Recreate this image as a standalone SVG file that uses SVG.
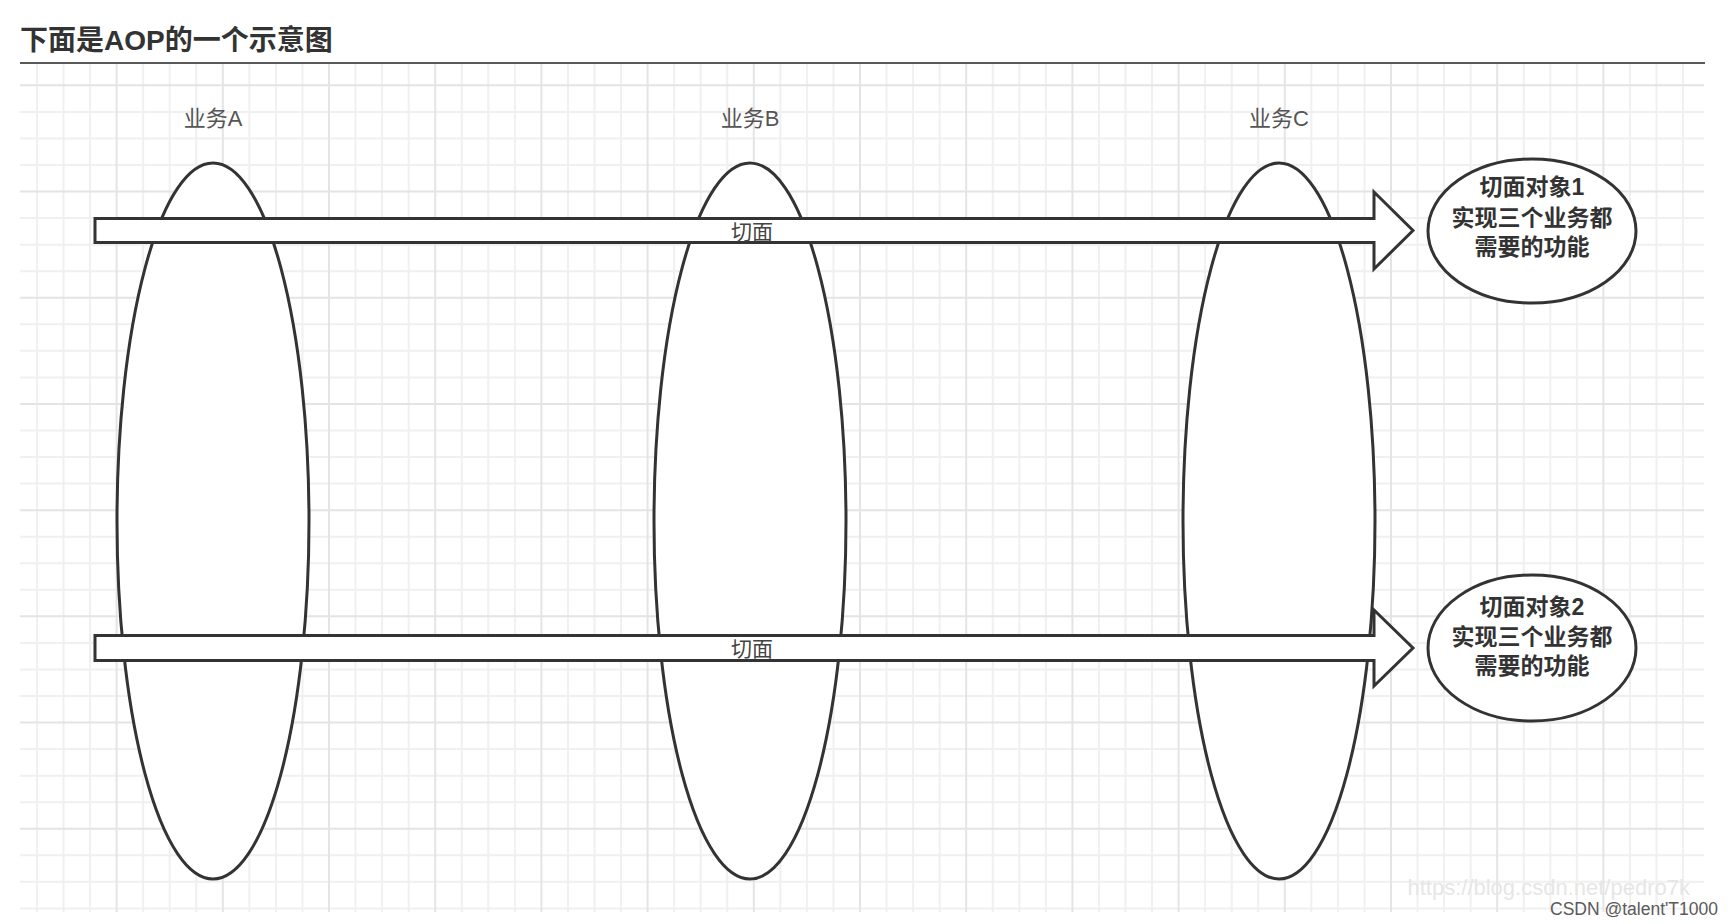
<svg xmlns="http://www.w3.org/2000/svg" width="1733" height="924" viewBox="0 0 1733 924">
<style>
.minor{stroke:#f0f0f0;stroke-width:2;fill:none}
.major{stroke:#e4e4e4;stroke-width:2;fill:none}
.shape{fill:#ffffff;stroke:#333333;stroke-width:3}
.lbl{font-family:"Liberation Sans","Noto Sans CJK SC",sans-serif;font-size:22px;fill:#555555;text-anchor:middle}
.cut{font-family:"Liberation Sans","Noto Sans CJK SC",sans-serif;font-size:21px;fill:#444444;text-anchor:middle}
.obj{font-family:"Liberation Sans","Noto Sans CJK SC",sans-serif;font-size:23px;font-weight:bold;fill:#333333;text-anchor:middle}
</style>
<rect x="0" y="0" width="1733" height="924" fill="#ffffff"/>
<g id="title">
<text x="20" y="50" font-family="Liberation Sans,'Noto Sans CJK SC',sans-serif" font-size="28" font-weight="bold" fill="#333333">下面是AOP的一个示意图</text>
<line x1="20" y1="63" x2="1705" y2="63" stroke="#222222" stroke-width="1.5"/>
</g>
<g id="grid">
<path class="minor" d="M36.95 64V912M63.5 64V912M90.05 64V912M143.15 64V912M169.7 64V912M196.25 64V912M249.35 64V912M275.9 64V912M302.45 64V912M355.55 64V912M382.1 64V912M408.65 64V912M461.75 64V912M488.3 64V912M514.85 64V912M567.95 64V912M594.5 64V912M621.05 64V912M674.15 64V912M700.7 64V912M727.25 64V912M780.35 64V912M806.9 64V912M833.45 64V912M886.55 64V912M913.1 64V912M939.65 64V912M992.75 64V912M1019.3 64V912M1045.85 64V912M1098.95 64V912M1125.5 64V912M1152.05 64V912M1205.15 64V912M1231.7 64V912M1258.25 64V912M1311.35 64V912M1337.9 64V912M1364.45 64V912M1417.55 64V912M1444.1 64V912M1470.65 64V912M1523.75 64V912M1550.3 64V912M1576.85 64V912M1629.95 64V912M1656.5 64V912M1683.05 64V912
M20 111.9H1704M20 138.45H1704M20 165H1704M20 218.1H1704M20 244.65H1704M20 271.2H1704M20 324.3H1704M20 350.85H1704M20 377.4H1704M20 430.5H1704M20 457.05H1704M20 483.6H1704M20 536.7H1704M20 563.25H1704M20 589.8H1704M20 642.9H1704M20 669.45H1704M20 696H1704M20 749.1H1704M20 775.65H1704M20 802.2H1704M20 855.3H1704M20 881.85H1704M20 908.4H1704"/>
<path class="major" d="M116.6 64V912M222.8 64V912M329 64V912M435.2 64V912M541.4 64V912M647.6 64V912M753.8 64V912M860 64V912M966.2 64V912M1072.4 64V912M1178.6 64V912M1284.8 64V912M1391 64V912M1497.2 64V912M1603.4 64V912
M20 85.35H1704M20 191.55H1704M20 297.75H1704M20 403.95H1704M20 510.15H1704M20 616.35H1704M20 722.55H1704M20 828.75H1704"/>
</g>
<g id="bizA">
<ellipse class="shape" cx="213" cy="521" rx="96" ry="358"/>
<text class="lbl" x="213" y="126">业务A</text>
</g>
<g id="bizB">
<ellipse class="shape" cx="750" cy="521" rx="96" ry="358"/>
<text class="lbl" x="750" y="126">业务B</text>
</g>
<g id="bizC">
<ellipse class="shape" cx="1279" cy="521" rx="96" ry="358"/>
<text class="lbl" x="1279" y="126">业务C</text>
</g>
<g id="connectors">
<g id="aspect1">
<polygon class="shape" points="95,218.5 1374,218.5 1374,192 1413,230.5 1374,269 1374,242.5 95,242.5"/>
<text class="cut" x="752" y="239">切面</text>
</g>
<g id="aspect2">
<polygon class="shape" points="95,635.5 1374,635.5 1374,610 1413,648 1374,686 1374,660.5 95,660.5"/>
<text class="cut" x="752" y="656">切面</text>
</g>
</g>
<g id="obj1">
<ellipse class="shape" cx="1532" cy="231" rx="104" ry="72"/>
<text class="obj" x="1532" y="195">切面对象1</text>
<text class="obj" x="1532" y="226">实现三个业务都</text>
<text class="obj" x="1532" y="255">需要的功能</text>
</g>
<g id="obj2">
<ellipse class="shape" cx="1532" cy="648" rx="104" ry="73"/>
<text class="obj" x="1532" y="615">切面对象2</text>
<text class="obj" x="1532" y="645">实现三个业务都</text>
<text class="obj" x="1532" y="674">需要的功能</text>
</g>
<g id="watermark">
<text x="1690" y="895" font-family="Liberation Sans,sans-serif" font-size="22" fill="#e6e6e6" text-anchor="end">https://blog.csdn.net/pedro7k</text>
<text x="1718" y="915" font-family="Liberation Sans,sans-serif" font-size="17.5" fill="#5a5a5a" text-anchor="end">CSDN @talent'T1000</text>
</g>
</svg>
